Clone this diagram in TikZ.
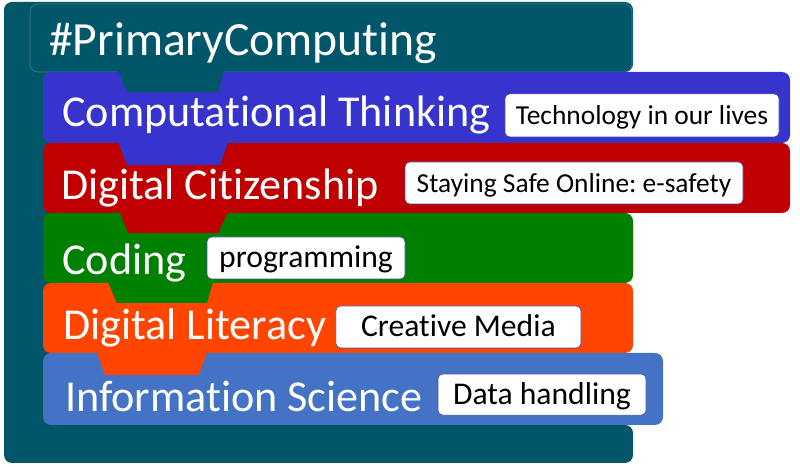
\documentclass[tikz,border=0pt]{standalone}
\usepackage{fontspec}
\setmainfont[Ligatures={NoCommon}]{Carlito}
\usepackage{tikz}
\usetikzlibrary{calc,positioning}
\frenchspacing

\definecolor{pcteal}{RGB}{2,86,105}
\definecolor{ctblue}{RGB}{54,52,204}
\definecolor{dcred}{RGB}{192,0,0}
\definecolor{codgreen}{RGB}{0,128,0}
\definecolor{dlorange}{RGB}{255,69,0}
\definecolor{isblue}{RGB}{68,114,196}

\begin{document}
\begin{tikzpicture}[
	block/.style={rounded corners=0.2cm},
	heading/.style={anchor=base west, inner sep=0, text=white, font=\fontsize{31.4}{36}\selectfont},
	tag/.style={draw=gray!60!blue, line width=0.4pt, fill=white, rounded corners=0.12cm, inner sep=0, text=black, text height=18.3pt, text depth=4.9pt, font=\fontsize{19.5}{23}\selectfont},
	bigtag/.style={tag, text height=19.1pt, text depth=5.6pt, font=\fontsize{22.5}{27}\selectfont}
]
	\useasboundingbox (0,0) rectangle (20,11.675);

	% Outer C-shaped frame
	\fill[pcteal, block] (0.1,9.875) rectangle (15.825,11.625);
	\fill[pcteal, block] (0.1,0.1) rectangle (15.825,1.05);
	\fill[pcteal] (0.1,0.6) rectangle (1.3,10.5);
	\draw[pcteal!75!white, line width=0.4pt, block] (0.75,9.875) rectangle (15.8,11.58);

	% Coloured blocks, from top to bottom
	\fill[ctblue, block] (1.075,8.1) rectangle (19.75,9.875);
	\fill[dcred, block] (1.075,6.35) rectangle (19.75,8.1);
	\fill[codgreen, block] (1.075,4.6) rectangle (15.825,6.35);
	\fill[dlorange, block] (1.075,2.85) rectangle (15.825,4.6);
	\fill[isblue, block] (1.075,1.05) rectangle (16.575,2.85);

	% Tabs hanging into the block below
	\fill[pcteal] (2.95,9.9) -- (5.6,9.9) -- (5.45,9.375) -- (3.175,9.375) -- cycle;
	\fill[ctblue] (2.95,8.12) -- (5.7,8.12) -- (5.5,7.55) -- (3.175,7.55) -- cycle;
	\fill[dcred] (3.0,6.37) -- (5.7,6.37) -- (5.45,5.85) -- (3.2,5.85) -- cycle;
	\fill[codgreen] (2.7,4.62) -- (5.325,4.62) -- (5.175,4.1) -- (2.925,4.1) -- cycle;
	\fill[dlorange] (2.425,2.87) -- (5.175,2.87) -- (4.975,2.3) -- (2.625,2.3) -- cycle;

	% Block titles
	\node[heading, font=\fontsize{33.9}{40}\selectfont] (title) at (1.22,10.275) {\#PrimaryComputing};
	\node[heading] (ct) at (1.55,8.51) {Computational Thinking};
	\node[heading] (dc) at (1.52,6.675) {Digital Citizenship};
	\node[heading] (cod) at (1.55,4.8) {Coding};
	\node[heading] (dl) at (1.57,3.175) {Digital Literacy};
	\node[heading] (is) at (1.62,1.38) {Information Science};

	% White tags
	\node[tag, minimum width=6.85cm, minimum height=1.075cm] (ctTag) at (16.05,8.79) {Technology in our lives};
	\node[tag, minimum width=8.45cm, minimum height=1.05cm] (dcTag) at (14.35,7.1) {Staying Safe Online: e-safety};
	\node[bigtag, minimum width=4.95cm, minimum height=1.05cm] (codTag) at (7.65,5.225) {programming};
	\node[bigtag, minimum width=6.125cm, minimum height=1.05cm] (dlTag) at (11.46,3.5) {Creative Media};
	\node[bigtag, minimum width=5.2cm, minimum height=1.025cm] (isTag) at (13.55,1.81) {Data handling};
\end{tikzpicture}
\end{document}
